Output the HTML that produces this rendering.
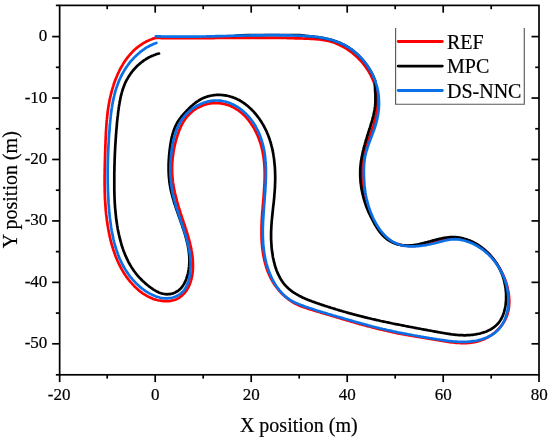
<!DOCTYPE html>
<html><head><meta charset="utf-8"><style>
html,body{margin:0;padding:0;background:#fff;}
body{width:550px;height:439px;overflow:hidden;}
svg{display:block;font-family:"Liberation Serif","Times New Roman",serif;}
text{stroke:#000;stroke-width:0.2px;}
</style></head><body>
<svg width="550" height="439" viewBox="0 0 550 439">
<rect width="550" height="439" fill="#fff"/>
<g fill="none" stroke-width="2.7" stroke-linecap="round" stroke-linejoin="round">
<path d="M155.4,38.0 L153.9,38.4 L152.4,38.9 L151.0,39.5 L149.6,40.0 L148.2,40.7 L146.8,41.3 L145.5,42.0 L144.1,42.7 L142.9,43.5 L141.6,44.3 L140.4,45.1 L139.2,46.0 L138.0,46.9 L136.8,47.8 L135.7,48.8 L134.6,49.8 L133.5,50.8 L132.5,51.8 L131.5,52.9 L130.5,54.0 L129.5,55.1 L128.5,56.3 L127.6,57.4 L126.7,58.6 L125.8,59.8 L125.0,61.1 L124.1,62.3 L123.3,63.6 L122.6,64.9 L121.8,66.2 L121.1,67.5 L120.3,68.8 L119.6,70.2 L119.0,71.5 L118.3,72.9 L117.7,74.3 L117.1,75.7 L116.5,77.1 L115.9,78.5 L115.4,79.9 L114.8,81.3 L114.3,82.8 L113.8,84.2 L113.4,85.6 L112.9,87.1 L112.5,88.5 L112.1,90.0 L111.7,91.4 L111.3,92.9 L110.9,94.3 L110.6,95.8 L110.2,97.3 L109.9,98.7 L109.6,100.2 L109.3,101.7 L109.1,103.1 L108.8,104.6 L108.6,106.1 L108.3,107.6 L108.1,109.0 L107.9,110.5 L107.7,112.0 L107.5,113.5 L107.3,115.0 L107.2,116.5 L107.0,118.0 L106.9,119.4 L106.7,120.9 L106.6,122.4 L106.5,123.9 L106.4,125.4 L106.3,126.9 L106.2,128.4 L106.1,129.9 L106.0,131.4 L105.9,132.9 L105.9,134.4 L105.8,135.9 L105.7,137.4 L105.7,138.9 L105.6,140.4 L105.5,141.9 L105.5,143.4 L105.4,144.9 L105.4,146.4 L105.3,147.9 L105.3,149.4 L105.2,150.9 L105.2,152.4 L105.1,154.0 L105.1,155.5 L105.0,157.0 L105.0,158.5 L105.0,160.0 L104.9,161.5 L104.9,163.0 L104.8,164.5 L104.8,166.0 L104.8,167.5 L104.7,169.0 L104.7,170.5 L104.7,172.0 L104.7,173.5 L104.6,175.0 L104.6,176.5 L104.6,178.0 L104.6,179.4 L104.6,180.9 L104.6,182.4 L104.6,183.9 L104.6,185.4 L104.7,186.9 L104.7,188.4 L104.7,189.9 L104.7,191.4 L104.8,192.9 L104.8,194.4 L104.9,195.9 L104.9,197.4 L105.0,198.9 L105.1,200.4 L105.2,201.9 L105.3,203.4 L105.4,204.9 L105.5,206.4 L105.6,207.9 L105.7,209.4 L105.8,210.9 L106.0,212.4 L106.1,213.9 L106.3,215.4 L106.5,216.9 L106.7,218.4 L106.8,219.9 L107.0,221.4 L107.3,222.8 L107.5,224.3 L107.7,225.8 L108.0,227.3 L108.2,228.8 L108.5,230.3 L108.8,231.8 L109.1,233.3 L109.4,234.8 L109.7,236.3 L110.0,237.7 L110.4,239.2 L110.7,240.7 L111.1,242.2 L111.5,243.6 L111.9,245.1 L112.3,246.5 L112.8,248.0 L113.2,249.4 L113.7,250.8 L114.2,252.3 L114.7,253.7 L115.2,255.1 L115.7,256.5 L116.3,257.9 L116.9,259.3 L117.4,260.6 L118.1,262.0 L118.7,263.4 L119.3,264.7 L120.0,266.0 L120.7,267.3 L121.4,268.7 L122.1,269.9 L122.9,271.2 L123.6,272.5 L124.4,273.7 L125.2,275.0 L126.1,276.2 L126.9,277.4 L127.8,278.6 L128.7,279.8 L129.6,281.0 L130.6,282.1 L131.6,283.2 L132.6,284.4 L133.6,285.4 L134.6,286.5 L135.7,287.6 L136.8,288.6 L137.9,289.6 L139.1,290.6 L140.2,291.5 L141.4,292.4 L142.6,293.3 L143.9,294.1 L145.2,294.9 L146.5,295.7 L147.8,296.4 L149.1,297.1 L150.5,297.7 L151.9,298.3 L153.3,298.9 L154.7,299.4 L156.2,299.8 L157.7,300.2 L159.2,300.5 L160.8,300.7 L162.3,300.9 L163.9,301.1 L165.5,301.1 L167.1,301.1 L168.6,301.1 L170.1,300.9 L171.6,300.6 L173.1,300.3 L174.5,299.9 L175.9,299.4 L177.2,298.8 L178.5,298.1 L179.7,297.3 L180.8,296.5 L181.9,295.6 L183.0,294.6 L184.0,293.6 L185.0,292.5 L185.8,291.4 L186.7,290.2 L187.5,288.9 L188.2,287.6 L188.9,286.3 L189.5,284.9 L190.0,283.5 L190.5,282.1 L191.0,280.6 L191.4,279.2 L191.7,277.7 L192.0,276.2 L192.3,274.7 L192.5,273.1 L192.7,271.6 L192.8,270.0 L192.9,268.5 L192.9,266.9 L192.9,265.4 L192.9,263.9 L192.9,262.4 L192.8,260.8 L192.7,259.3 L192.6,257.8 L192.4,256.3 L192.2,254.8 L192.0,253.4 L191.8,251.9 L191.5,250.4 L191.3,248.9 L191.0,247.5 L190.7,246.0 L190.3,244.6 L190.0,243.1 L189.6,241.7 L189.2,240.2 L188.8,238.8 L188.4,237.4 L188.0,235.9 L187.6,234.5 L187.2,233.1 L186.7,231.7 L186.3,230.2 L185.8,228.8 L185.3,227.4 L184.9,226.0 L184.4,224.5 L183.9,223.1 L183.5,221.7 L183.0,220.3 L182.5,218.9 L182.0,217.4 L181.6,216.0 L181.1,214.6 L180.6,213.1 L180.2,211.7 L179.7,210.3 L179.3,208.9 L178.8,207.4 L178.4,206.0 L178.0,204.5 L177.6,203.1 L177.1,201.7 L176.7,200.2 L176.4,198.8 L176.0,197.3 L175.6,195.9 L175.3,194.4 L174.9,193.0 L174.6,191.5 L174.3,190.1 L174.0,188.6 L173.7,187.1 L173.5,185.7 L173.3,184.2 L173.0,182.7 L172.8,181.2 L172.7,179.7 L172.5,178.3 L172.4,176.8 L172.3,175.3 L172.2,173.8 L172.1,172.3 L172.1,170.8 L172.1,169.3 L172.1,167.7 L172.1,166.2 L172.2,164.7 L172.2,163.2 L172.3,161.7 L172.5,160.2 L172.6,158.7 L172.8,157.1 L173.0,155.6 L173.2,154.1 L173.4,152.6 L173.6,151.1 L173.9,149.6 L174.2,148.1 L174.5,146.6 L174.8,145.2 L175.2,143.7 L175.5,142.2 L175.9,140.8 L176.3,139.3 L176.7,137.9 L177.2,136.4 L177.6,135.0 L178.1,133.6 L178.6,132.2 L179.1,130.8 L179.6,129.5 L180.2,128.1 L180.8,126.8 L181.4,125.5 L182.1,124.2 L182.8,122.9 L183.5,121.6 L184.3,120.4 L185.1,119.2 L186.0,118.0 L186.9,116.8 L187.9,115.7 L189.0,114.6 L190.1,113.5 L191.2,112.5 L192.4,111.5 L193.6,110.5 L194.9,109.6 L196.2,108.7 L197.6,107.9 L199.0,107.2 L200.4,106.5 L201.8,105.9 L203.2,105.3 L204.6,104.8 L206.1,104.4 L207.5,104.0 L209.0,103.7 L210.5,103.4 L212.0,103.2 L213.4,103.1 L214.9,103.1 L216.4,103.1 L217.8,103.1 L219.3,103.2 L220.8,103.4 L222.2,103.6 L223.7,103.9 L225.1,104.2 L226.5,104.6 L227.9,105.0 L229.3,105.5 L230.7,106.1 L232.0,106.7 L233.3,107.3 L234.6,108.0 L235.9,108.8 L237.1,109.6 L238.4,110.4 L239.6,111.3 L240.7,112.2 L241.9,113.2 L243.0,114.2 L244.1,115.2 L245.1,116.3 L246.2,117.4 L247.2,118.6 L248.1,119.7 L249.1,120.9 L250.0,122.2 L250.9,123.4 L251.7,124.7 L252.6,126.0 L253.4,127.3 L254.2,128.6 L254.9,130.0 L255.6,131.3 L256.3,132.7 L256.9,134.1 L257.6,135.5 L258.1,136.9 L258.7,138.3 L259.2,139.7 L259.7,141.1 L260.2,142.6 L260.7,144.0 L261.1,145.4 L261.5,146.9 L261.8,148.3 L262.2,149.8 L262.5,151.2 L262.8,152.7 L263.0,154.2 L263.3,155.6 L263.5,157.1 L263.7,158.6 L263.9,160.0 L264.0,161.5 L264.2,163.0 L264.3,164.5 L264.4,165.9 L264.5,167.4 L264.6,168.9 L264.6,170.4 L264.7,171.9 L264.7,173.4 L264.7,174.8 L264.7,176.3 L264.7,177.8 L264.6,179.3 L264.6,180.8 L264.5,182.3 L264.5,183.7 L264.4,185.2 L264.3,186.7 L264.2,188.2 L264.1,189.7 L264.0,191.2 L263.9,192.7 L263.8,194.1 L263.7,195.6 L263.6,197.1 L263.5,198.6 L263.3,200.1 L263.2,201.6 L263.1,203.1 L262.9,204.6 L262.8,206.1 L262.7,207.6 L262.6,209.1 L262.4,210.6 L262.3,212.1 L262.2,213.6 L262.1,215.1 L262.0,216.6 L261.9,218.1 L261.8,219.6 L261.7,221.1 L261.7,222.6 L261.6,224.2 L261.6,225.7 L261.5,227.2 L261.5,228.7 L261.5,230.3 L261.5,231.8 L261.5,233.3 L261.5,234.9 L261.5,236.4 L261.6,237.9 L261.6,239.4 L261.7,241.0 L261.8,242.5 L261.9,244.0 L262.1,245.6 L262.2,247.1 L262.4,248.6 L262.6,250.1 L262.8,251.6 L263.0,253.1 L263.2,254.6 L263.5,256.1 L263.8,257.6 L264.1,259.0 L264.4,260.5 L264.8,262.0 L265.2,263.4 L265.6,264.8 L266.0,266.3 L266.4,267.7 L266.9,269.1 L267.4,270.5 L267.9,271.9 L268.5,273.2 L269.1,274.6 L269.7,275.9 L270.3,277.3 L271.0,278.6 L271.7,279.9 L272.4,281.2 L273.2,282.4 L273.9,283.7 L274.8,284.9 L275.6,286.1 L276.5,287.3 L277.4,288.5 L278.3,289.6 L279.3,290.8 L280.3,291.9 L281.3,293.0 L282.3,294.0 L283.4,295.1 L284.5,296.1 L285.6,297.0 L286.8,298.0 L288.0,298.9 L289.2,299.8 L290.4,300.7 L291.6,301.5 L292.9,302.3 L294.2,303.0 L295.5,303.7 L296.9,304.4 L298.2,305.1 L299.6,305.7 L301.0,306.3 L302.4,306.8 L303.9,307.3 L305.3,307.8 L306.8,308.3 L308.2,308.7 L309.7,309.2 L311.2,309.6 L312.6,310.1 L314.1,310.5 L315.5,310.9 L317.0,311.4 L318.4,311.8 L319.9,312.2 L321.3,312.7 L322.8,313.1 L324.2,313.5 L325.6,314.0 L327.1,314.4 L328.5,314.8 L329.9,315.3 L331.4,315.7 L332.8,316.1 L334.2,316.5 L335.7,317.0 L337.1,317.4 L338.5,317.8 L339.9,318.3 L341.4,318.7 L342.8,319.1 L344.2,319.5 L345.7,319.9 L347.1,320.4 L348.5,320.8 L350.0,321.2 L351.4,321.6 L352.8,322.0 L354.3,322.4 L355.7,322.9 L357.1,323.3 L358.6,323.7 L360.0,324.1 L361.5,324.5 L362.9,324.9 L364.4,325.3 L365.9,325.7 L367.3,326.1 L368.8,326.5 L370.3,326.8 L371.7,327.2 L373.2,327.6 L374.7,328.0 L376.1,328.4 L377.6,328.7 L379.1,329.1 L380.5,329.4 L382.0,329.8 L383.5,330.1 L385.0,330.5 L386.4,330.8 L387.9,331.2 L389.4,331.5 L390.8,331.8 L392.3,332.1 L393.8,332.5 L395.3,332.8 L396.7,333.1 L398.2,333.4 L399.6,333.7 L401.1,333.9 L402.6,334.2 L404.0,334.5 L405.5,334.8 L406.9,335.0 L408.4,335.3 L409.9,335.5 L411.3,335.8 L412.8,336.0 L414.2,336.3 L415.7,336.5 L417.2,336.8 L418.6,337.0 L420.1,337.2 L421.6,337.5 L423.0,337.7 L424.5,337.9 L426.0,338.2 L427.5,338.4 L428.9,338.7 L430.4,338.9 L431.9,339.2 L433.4,339.4 L434.9,339.6 L436.4,339.9 L437.9,340.1 L439.4,340.4 L440.9,340.7 L442.4,340.9 L443.9,341.2 L445.5,341.4 L447.0,341.7 L448.5,341.9 L450.0,342.1 L451.6,342.3 L453.1,342.5 L454.6,342.6 L456.1,342.8 L457.6,342.9 L459.1,343.0 L460.7,343.1 L462.2,343.2 L463.7,343.2 L465.2,343.2 L466.7,343.1 L468.2,343.0 L469.6,342.9 L471.1,342.7 L472.6,342.5 L474.0,342.3 L475.5,342.0 L476.9,341.6 L478.4,341.3 L479.8,340.8 L481.2,340.3 L482.6,339.8 L484.0,339.2 L485.3,338.6 L486.7,337.9 L488.0,337.2 L489.3,336.4 L490.6,335.6 L491.8,334.8 L493.0,333.9 L494.2,333.0 L495.4,332.0 L496.5,331.0 L497.6,330.0 L498.6,328.9 L499.6,327.8 L500.6,326.7 L501.5,325.6 L502.4,324.4 L503.2,323.1 L504.0,321.9 L504.7,320.6 L505.4,319.3 L506.0,318.0 L506.6,316.7 L507.1,315.3 L507.5,313.9 L507.9,312.5 L508.3,311.1 L508.6,309.6 L508.8,308.2 L509.0,306.7 L509.1,305.2 L509.2,303.7 L509.3,302.2 L509.3,300.7 L509.2,299.2 L509.1,297.7 L509.0,296.1 L508.8,294.6 L508.6,293.1 L508.3,291.6 L508.0,290.0 L507.7,288.5 L507.4,287.0 L507.0,285.5 L506.5,284.0 L506.1,282.5 L505.6,281.0 L505.0,279.6 L504.5,278.1 L503.9,276.7 L503.3,275.3 L502.7,273.9 L502.0,272.5 L501.3,271.1 L500.6,269.8 L499.9,268.5 L499.1,267.2 L498.3,265.9 L497.5,264.6 L496.7,263.4 L495.8,262.2 L494.9,261.0 L494.0,259.8 L493.1,258.7 L492.1,257.6 L491.1,256.5 L490.1,255.4 L489.1,254.4 L488.0,253.3 L486.9,252.4 L485.8,251.4 L484.7,250.5 L483.5,249.6 L482.3,248.7 L481.1,247.8 L479.9,247.0 L478.7,246.2 L477.4,245.5 L476.1,244.7 L474.8,244.0 L473.4,243.4 L472.0,242.7 L470.7,242.1 L469.3,241.6 L467.8,241.1 L466.4,240.6 L464.9,240.1 L463.5,239.7 L462.0,239.4 L460.5,239.1 L459.0,238.8 L457.5,238.6 L456.0,238.4 L454.5,238.3 L453.0,238.3 L451.5,238.3 L450.0,238.4 L448.5,238.5 L447.0,238.7 L445.6,238.9 L444.1,239.2 L442.6,239.5 L441.2,239.9 L439.7,240.3 L438.2,240.7 L436.8,241.1 L435.3,241.5 L433.9,241.9 L432.4,242.4 L431.0,242.8 L429.5,243.2 L428.1,243.5 L426.6,243.9 L425.1,244.2 L423.7,244.6 L422.2,244.9 L420.7,245.1 L419.2,245.4 L417.7,245.6 L416.2,245.7 L414.8,245.9 L413.3,245.9 L411.7,246.0 L410.2,246.0 L408.7,245.9 L407.2,245.8 L405.7,245.7 L404.2,245.5 L402.7,245.2 L401.2,244.9 L399.7,244.6 L398.2,244.1 L396.8,243.7 L395.4,243.1 L394.1,242.5 L392.7,241.9 L391.5,241.2 L390.2,240.4 L389.0,239.6 L387.8,238.8 L386.7,237.8 L385.6,236.9 L384.5,235.9 L383.4,234.9 L382.4,233.8 L381.4,232.7 L380.5,231.5 L379.6,230.3 L378.7,229.1 L377.8,227.9 L377.0,226.6 L376.2,225.3 L375.4,224.0 L374.6,222.7 L373.9,221.3 L373.2,220.0 L372.5,218.6 L371.9,217.2 L371.3,215.8 L370.6,214.4 L370.1,212.9 L369.5,211.5 L369.0,210.1 L368.4,208.7 L367.9,207.2 L367.5,205.8 L367.0,204.4 L366.6,202.9 L366.1,201.5 L365.8,200.1 L365.4,198.6 L365.0,197.2 L364.7,195.7 L364.4,194.3 L364.1,192.8 L363.8,191.4 L363.6,189.9 L363.4,188.4 L363.2,187.0 L363.0,185.5 L362.8,184.0 L362.7,182.5 L362.5,181.1 L362.4,179.6 L362.4,178.1 L362.3,176.6 L362.3,175.1 L362.3,173.6 L362.3,172.1 L362.3,170.6 L362.3,169.1 L362.4,167.5 L362.5,166.0 L362.6,164.5 L362.7,163.0 L362.9,161.5 L363.1,160.0 L363.3,158.5 L363.5,157.0 L363.8,155.5 L364.1,154.0 L364.4,152.5 L364.8,151.1 L365.1,149.6 L365.5,148.2 L366.0,146.8 L366.4,145.4 L366.9,144.0 L367.4,142.6 L367.9,141.2 L368.4,139.8 L368.9,138.4 L369.5,137.0 L370.0,135.6 L370.5,134.2 L371.0,132.8 L371.5,131.3 L372.0,129.9 L372.5,128.5 L372.9,127.0 L373.4,125.6 L373.8,124.1 L374.2,122.6 L374.6,121.2 L375.0,119.7 L375.3,118.2 L375.6,116.7 L375.9,115.2 L376.2,113.7 L376.5,112.3 L376.7,110.8 L376.9,109.3 L377.0,107.8 L377.1,106.3 L377.2,104.8 L377.3,103.3 L377.3,101.8 L377.3,100.3 L377.3,98.8 L377.2,97.4 L377.1,95.9 L376.9,94.4 L376.7,92.9 L376.4,91.5 L376.1,90.0 L375.8,88.6 L375.4,87.1 L375.0,85.7 L374.6,84.3 L374.1,82.9 L373.6,81.5 L373.0,80.1 L372.4,78.7 L371.8,77.4 L371.2,76.0 L370.5,74.7 L369.7,73.3 L369.0,72.0 L368.2,70.8 L367.4,69.5 L366.5,68.2 L365.7,67.0 L364.8,65.8 L363.9,64.6 L362.9,63.4 L361.9,62.2 L360.9,61.1 L359.9,59.9 L358.8,58.9 L357.8,57.8 L356.7,56.7 L355.5,55.7 L354.4,54.7 L353.2,53.7 L352.1,52.8 L350.9,51.8 L349.6,50.9 L348.4,50.1 L347.2,49.2 L345.9,48.4 L344.6,47.7 L343.3,46.9 L342.0,46.2 L340.7,45.5 L339.3,44.9 L337.9,44.2 L336.6,43.7 L335.2,43.1 L333.8,42.6 L332.4,42.1 L331.0,41.7 L329.5,41.3 L328.1,40.9 L326.6,40.6 L325.2,40.3 L323.7,40.1 L322.2,39.8 L320.8,39.6 L319.3,39.5 L317.8,39.3 L316.3,39.2 L314.8,39.1 L313.3,39.0 L311.8,38.9 L310.3,38.8 L308.8,38.7 L307.2,38.7 L305.7,38.6 L304.2,38.6 L302.7,38.5 L301.2,38.4 L299.7,38.4 L298.2,38.3 L296.7,38.3 L295.2,38.3 L293.7,38.2 L292.2,38.2 L290.7,38.1 L289.1,38.1 L287.6,38.1 L286.1,38.0 L284.6,38.0 L283.1,38.0 L281.6,38.0 L280.1,37.9 L278.6,37.9 L277.1,37.9 L275.6,37.9 L274.1,37.9 L272.6,37.9 L271.1,37.8 L269.6,37.8 L268.1,37.8 L266.6,37.8 L265.1,37.8 L263.6,37.8 L262.1,37.8 L260.6,37.8 L259.1,37.8 L257.6,37.8 L256.1,37.8 L254.6,37.8 L253.1,37.8 L251.6,37.8 L250.1,37.8 L248.6,37.8 L247.1,37.8 L245.6,37.8 L244.1,37.8 L242.6,37.8 L241.1,37.8 L239.6,37.8 L238.1,37.9 L236.6,37.9 L235.1,37.9 L233.6,37.9 L232.1,37.9 L230.6,37.9 L229.1,37.9 L227.6,37.9 L226.1,37.9 L224.6,38.0 L223.1,38.0 L221.6,38.0 L220.1,38.0 L218.6,38.0 L217.1,38.0 L215.6,38.0 L214.1,38.1 L212.6,38.1 L211.1,38.1 L209.6,38.1 L208.1,38.1 L206.6,38.1 L205.1,38.1 L203.6,38.1 L202.1,38.1 L200.6,38.2 L199.1,38.2 L197.6,38.2 L196.1,38.2 L194.6,38.2 L193.1,38.2 L191.6,38.2 L190.1,38.2 L188.6,38.2 L187.1,38.2 L185.6,38.2 L184.1,38.2 L182.6,38.2 L181.1,38.2 L179.6,38.2 L178.1,38.2 L176.6,38.2 L175.1,38.2 L173.6,38.2 L172.1,38.2 L170.5,38.2 L169.0,38.1 L167.5,38.1 L166.0,38.1 L164.5,38.1 L163.0,38.1 L161.5,38.1 L160.0,38.0 L158.5,38.0 L157.0,38.0 L155.5,38.0" stroke="#ff0000" />
<path d="M159.0,53.5 L158.0,53.7 L157.0,54.0 L156.1,54.3 L155.1,54.7 L154.2,55.0 L153.3,55.4 L152.3,55.8 L151.4,56.2 L150.5,56.6 L149.6,57.1 L148.7,57.5 L147.8,58.0 L147.0,58.5 L146.1,59.0 L145.3,59.6 L144.4,60.1 L143.6,60.7 L142.8,61.3 L142.0,61.9 L141.2,62.5 L140.4,63.2 L139.6,63.8 L138.9,64.5 L138.1,65.1 L137.4,65.8 L136.7,66.5 L136.0,67.2 L135.3,68.0 L134.6,68.7 L133.9,69.5 L133.3,70.2 L132.6,71.0 L132.0,71.8 L131.4,72.6 L130.8,73.4 L130.2,74.2 L129.7,75.0 L129.1,75.9 L128.6,76.7 L128.1,77.6 L127.6,78.4 L127.1,79.3 L126.6,80.2 L126.2,81.0 L125.7,81.9 L125.3,82.8 L124.9,83.7 L124.5,84.6 L124.2,85.6 L123.8,86.5 L123.5,87.4 L123.1,88.3 L122.8,89.3 L122.5,90.2 L122.2,91.2 L121.9,92.1 L121.7,93.1 L121.4,94.0 L121.2,95.0 L120.9,96.0 L120.7,97.0 L120.5,97.9 L120.3,98.9 L120.1,99.9 L119.9,100.9 L119.7,101.9 L119.5,102.9 L119.4,103.9 L119.2,104.9 L119.0,105.9 L118.9,106.9 L118.7,107.9 L118.6,108.9 L118.5,109.9 L118.3,110.9 L118.2,111.9 L118.1,112.9 L118.0,113.9 L117.9,114.9 L117.8,115.9 L117.6,116.9 L117.5,117.9 L117.4,118.9 L117.3,119.9 L117.2,120.9 L117.1,121.9 L117.0,122.9 L116.9,123.9 L116.8,124.9 L116.8,125.9 L116.7,126.9 L116.6,127.9 L116.5,128.9 L116.4,129.9 L116.3,130.9 L116.2,131.9 L116.2,132.9 L116.1,133.9 L116.0,134.9 L115.9,135.9 L115.9,136.9 L115.8,137.9 L115.7,138.9 L115.7,139.9 L115.6,140.9 L115.5,141.9 L115.5,142.9 L115.4,143.9 L115.3,144.9 L115.3,145.9 L115.2,146.9 L115.2,147.9 L115.1,148.9 L115.1,149.9 L115.0,150.9 L115.0,151.8 L114.9,152.8 L114.9,153.8 L114.8,154.8 L114.8,155.8 L114.8,156.8 L114.7,157.8 L114.7,158.8 L114.6,159.8 L114.6,160.8 L114.6,161.8 L114.6,162.8 L114.5,163.8 L114.5,164.8 L114.5,165.8 L114.4,166.8 L114.4,167.8 L114.4,168.8 L114.4,169.8 L114.4,170.8 L114.3,171.8 L114.3,172.8 L114.3,173.8 L114.3,174.8 L114.3,175.8 L114.3,176.8 L114.3,177.8 L114.3,178.8 L114.3,179.8 L114.3,180.8 L114.3,181.8 L114.3,182.8 L114.3,183.8 L114.3,184.8 L114.3,185.8 L114.3,186.8 L114.3,187.8 L114.3,188.8 L114.3,189.8 L114.3,190.8 L114.4,191.8 L114.4,192.8 L114.4,193.8 L114.4,194.8 L114.5,195.8 L114.5,196.8 L114.5,197.8 L114.6,198.8 L114.6,199.8 L114.7,200.8 L114.7,201.8 L114.8,202.8 L114.8,203.8 L114.9,204.8 L115.0,205.8 L115.0,206.8 L115.1,207.8 L115.2,208.8 L115.3,209.8 L115.4,210.8 L115.5,211.8 L115.6,212.8 L115.7,213.8 L115.8,214.8 L115.9,215.8 L116.0,216.8 L116.1,217.8 L116.2,218.8 L116.3,219.8 L116.5,220.8 L116.6,221.8 L116.8,222.8 L116.9,223.8 L117.1,224.7 L117.2,225.7 L117.4,226.7 L117.6,227.7 L117.7,228.7 L117.9,229.7 L118.1,230.7 L118.3,231.6 L118.5,232.6 L118.7,233.6 L118.9,234.6 L119.2,235.6 L119.4,236.5 L119.6,237.5 L119.9,238.5 L120.1,239.5 L120.4,240.4 L120.6,241.4 L120.9,242.4 L121.2,243.3 L121.4,244.3 L121.7,245.3 L122.0,246.2 L122.3,247.2 L122.7,248.1 L123.0,249.1 L123.3,250.0 L123.6,251.0 L124.0,251.9 L124.4,252.8 L124.7,253.8 L125.1,254.7 L125.5,255.6 L125.9,256.5 L126.3,257.4 L126.7,258.3 L127.1,259.2 L127.6,260.1 L128.0,261.0 L128.4,261.9 L128.9,262.8 L129.4,263.6 L129.9,264.5 L130.4,265.4 L130.9,266.2 L131.4,267.1 L131.9,267.9 L132.5,268.7 L133.0,269.6 L133.6,270.4 L134.2,271.2 L134.8,272.0 L135.4,272.8 L136.0,273.6 L136.6,274.3 L137.2,275.1 L137.9,275.9 L138.5,276.6 L139.2,277.4 L139.9,278.1 L140.6,278.8 L141.3,279.5 L142.0,280.3 L142.7,281.0 L143.5,281.6 L144.2,282.3 L145.0,283.0 L145.7,283.7 L146.5,284.3 L147.3,285.0 L148.1,285.6 L148.9,286.3 L149.7,286.9 L150.6,287.5 L151.4,288.1 L152.3,288.7 L153.1,289.3 L154.0,289.9 L154.9,290.4 L155.7,290.9 L156.6,291.4 L157.5,291.8 L158.4,292.3 L159.4,292.7 L160.3,293.0 L161.2,293.3 L162.2,293.6 L163.1,293.8 L164.1,294.0 L165.0,294.1 L166.0,294.2 L167.0,294.3 L168.0,294.2 L168.9,294.2 L169.9,294.1 L170.9,293.9 L171.8,293.7 L172.8,293.4 L173.7,293.1 L174.7,292.7 L175.5,292.3 L176.4,291.8 L177.3,291.3 L178.1,290.8 L178.8,290.2 L179.6,289.6 L180.3,288.9 L181.0,288.2 L181.6,287.5 L182.2,286.7 L182.8,285.9 L183.3,285.1 L183.9,284.2 L184.3,283.4 L184.8,282.5 L185.2,281.5 L185.7,280.6 L186.0,279.7 L186.4,278.7 L186.7,277.7 L187.0,276.7 L187.3,275.8 L187.6,274.8 L187.9,273.8 L188.1,272.8 L188.3,271.8 L188.5,270.8 L188.7,269.7 L188.8,268.7 L188.9,267.7 L189.1,266.7 L189.2,265.7 L189.2,264.7 L189.3,263.7 L189.3,262.7 L189.4,261.7 L189.4,260.7 L189.4,259.7 L189.4,258.7 L189.3,257.7 L189.3,256.7 L189.2,255.7 L189.1,254.7 L189.0,253.7 L188.9,252.7 L188.8,251.7 L188.7,250.8 L188.6,249.8 L188.4,248.8 L188.2,247.8 L188.1,246.9 L187.9,245.9 L187.7,244.9 L187.5,244.0 L187.3,243.0 L187.0,242.0 L186.8,241.1 L186.6,240.1 L186.3,239.2 L186.1,238.2 L185.8,237.3 L185.5,236.3 L185.3,235.3 L185.0,234.4 L184.7,233.4 L184.4,232.5 L184.1,231.5 L183.8,230.6 L183.5,229.6 L183.2,228.7 L182.8,227.7 L182.5,226.8 L182.2,225.8 L181.9,224.9 L181.6,223.9 L181.2,223.0 L180.9,222.0 L180.6,221.1 L180.2,220.1 L179.9,219.2 L179.6,218.2 L179.2,217.3 L178.9,216.3 L178.5,215.4 L178.2,214.4 L177.9,213.5 L177.5,212.5 L177.2,211.6 L176.9,210.6 L176.6,209.7 L176.2,208.7 L175.9,207.8 L175.6,206.8 L175.3,205.8 L175.0,204.9 L174.6,203.9 L174.3,203.0 L174.0,202.0 L173.8,201.1 L173.5,200.1 L173.2,199.1 L172.9,198.2 L172.6,197.2 L172.4,196.2 L172.1,195.3 L171.9,194.3 L171.6,193.3 L171.4,192.4 L171.2,191.4 L170.9,190.4 L170.7,189.5 L170.5,188.5 L170.3,187.5 L170.2,186.5 L170.0,185.6 L169.8,184.6 L169.7,183.6 L169.5,182.6 L169.4,181.6 L169.3,180.6 L169.2,179.6 L169.1,178.7 L169.0,177.7 L168.9,176.7 L168.8,175.7 L168.8,174.7 L168.7,173.7 L168.7,172.7 L168.6,171.7 L168.6,170.7 L168.6,169.7 L168.6,168.7 L168.6,167.7 L168.6,166.7 L168.6,165.7 L168.6,164.7 L168.6,163.7 L168.7,162.7 L168.7,161.7 L168.8,160.7 L168.8,159.7 L168.9,158.7 L169.0,157.7 L169.0,156.6 L169.1,155.6 L169.2,154.6 L169.3,153.6 L169.4,152.6 L169.5,151.6 L169.6,150.6 L169.7,149.6 L169.9,148.6 L170.0,147.6 L170.1,146.6 L170.3,145.6 L170.4,144.6 L170.6,143.6 L170.8,142.6 L170.9,141.6 L171.1,140.6 L171.3,139.6 L171.5,138.6 L171.7,137.6 L172.0,136.7 L172.2,135.7 L172.5,134.7 L172.7,133.8 L173.0,132.8 L173.3,131.9 L173.6,130.9 L173.9,130.0 L174.3,129.1 L174.6,128.2 L175.0,127.3 L175.4,126.4 L175.8,125.5 L176.2,124.6 L176.7,123.7 L177.1,122.9 L177.6,122.0 L178.1,121.2 L178.7,120.4 L179.2,119.6 L179.8,118.8 L180.4,118.0 L181.0,117.2 L181.6,116.4 L182.2,115.6 L182.9,114.9 L183.5,114.1 L184.2,113.4 L184.9,112.6 L185.6,111.9 L186.3,111.2 L187.0,110.4 L187.7,109.7 L188.5,109.0 L189.2,108.3 L190.0,107.5 L190.7,106.8 L191.5,106.1 L192.3,105.4 L193.0,104.8 L193.8,104.1 L194.6,103.5 L195.4,102.8 L196.2,102.2 L197.1,101.6 L197.9,101.1 L198.8,100.5 L199.6,100.0 L200.5,99.5 L201.4,99.0 L202.3,98.6 L203.2,98.1 L204.1,97.7 L205.0,97.4 L205.9,97.0 L206.8,96.7 L207.8,96.4 L208.7,96.2 L209.7,95.9 L210.7,95.7 L211.6,95.5 L212.6,95.4 L213.6,95.2 L214.5,95.1 L215.5,95.0 L216.5,94.9 L217.5,94.9 L218.5,94.9 L219.5,94.9 L220.4,94.9 L221.4,95.0 L222.4,95.1 L223.4,95.2 L224.4,95.3 L225.3,95.4 L226.3,95.6 L227.3,95.8 L228.3,96.0 L229.2,96.2 L230.2,96.5 L231.1,96.8 L232.1,97.1 L233.0,97.4 L234.0,97.8 L234.9,98.1 L235.8,98.5 L236.7,98.9 L237.6,99.4 L238.5,99.8 L239.4,100.3 L240.3,100.8 L241.1,101.3 L242.0,101.8 L242.8,102.4 L243.7,103.0 L244.5,103.5 L245.3,104.1 L246.1,104.8 L246.9,105.4 L247.7,106.0 L248.5,106.7 L249.2,107.4 L250.0,108.1 L250.7,108.8 L251.5,109.5 L252.2,110.2 L252.9,110.9 L253.6,111.7 L254.3,112.5 L254.9,113.2 L255.6,114.0 L256.3,114.8 L256.9,115.6 L257.5,116.4 L258.1,117.2 L258.7,118.0 L259.3,118.8 L259.9,119.7 L260.5,120.5 L261.0,121.4 L261.6,122.2 L262.1,123.1 L262.6,123.9 L263.1,124.8 L263.6,125.6 L264.1,126.5 L264.5,127.4 L265.0,128.3 L265.4,129.2 L265.9,130.1 L266.3,130.9 L266.7,131.8 L267.1,132.8 L267.5,133.7 L267.9,134.6 L268.2,135.5 L268.6,136.4 L268.9,137.3 L269.2,138.3 L269.6,139.2 L269.9,140.1 L270.2,141.1 L270.5,142.0 L270.8,143.0 L271.0,143.9 L271.3,144.9 L271.5,145.8 L271.8,146.8 L272.0,147.7 L272.2,148.7 L272.4,149.7 L272.7,150.6 L272.8,151.6 L273.0,152.6 L273.2,153.6 L273.4,154.5 L273.5,155.5 L273.7,156.5 L273.8,157.5 L274.0,158.5 L274.1,159.5 L274.2,160.5 L274.3,161.5 L274.4,162.5 L274.5,163.5 L274.6,164.5 L274.7,165.5 L274.8,166.5 L274.9,167.5 L274.9,168.5 L275.0,169.5 L275.0,170.5 L275.1,171.5 L275.1,172.5 L275.1,173.5 L275.1,174.5 L275.2,175.5 L275.2,176.5 L275.2,177.5 L275.2,178.5 L275.2,179.5 L275.2,180.6 L275.1,181.6 L275.1,182.6 L275.1,183.6 L275.0,184.6 L275.0,185.6 L275.0,186.6 L274.9,187.6 L274.9,188.6 L274.8,189.6 L274.7,190.6 L274.7,191.6 L274.6,192.7 L274.5,193.7 L274.4,194.7 L274.3,195.7 L274.3,196.7 L274.2,197.7 L274.1,198.7 L274.0,199.7 L273.9,200.6 L273.8,201.6 L273.7,202.6 L273.6,203.6 L273.5,204.6 L273.3,205.6 L273.2,206.6 L273.1,207.6 L273.0,208.6 L272.9,209.6 L272.8,210.6 L272.7,211.5 L272.6,212.5 L272.5,213.5 L272.4,214.5 L272.3,215.5 L272.2,216.5 L272.1,217.5 L272.0,218.5 L271.9,219.4 L271.8,220.4 L271.7,221.4 L271.6,222.4 L271.6,223.4 L271.5,224.4 L271.4,225.4 L271.4,226.3 L271.3,227.3 L271.3,228.3 L271.2,229.3 L271.2,230.3 L271.1,231.3 L271.1,232.3 L271.1,233.3 L271.1,234.3 L271.1,235.3 L271.1,236.3 L271.1,237.2 L271.1,238.2 L271.1,239.2 L271.2,240.2 L271.2,241.2 L271.3,242.2 L271.3,243.2 L271.4,244.2 L271.5,245.2 L271.5,246.2 L271.6,247.3 L271.7,248.3 L271.8,249.3 L271.9,250.3 L272.1,251.3 L272.2,252.3 L272.4,253.3 L272.5,254.3 L272.7,255.4 L272.8,256.4 L273.0,257.4 L273.2,258.4 L273.4,259.4 L273.7,260.4 L273.9,261.4 L274.1,262.4 L274.4,263.4 L274.7,264.4 L274.9,265.4 L275.2,266.4 L275.5,267.3 L275.8,268.3 L276.2,269.3 L276.5,270.2 L276.9,271.2 L277.3,272.1 L277.6,273.0 L278.1,273.9 L278.5,274.8 L278.9,275.7 L279.4,276.6 L279.8,277.5 L280.3,278.3 L280.8,279.2 L281.3,280.0 L281.8,280.8 L282.4,281.6 L282.9,282.4 L283.5,283.2 L284.1,284.0 L284.7,284.7 L285.4,285.4 L286.0,286.1 L286.7,286.8 L287.4,287.5 L288.1,288.2 L288.8,288.8 L289.5,289.4 L290.3,290.0 L291.0,290.6 L291.8,291.2 L292.6,291.8 L293.4,292.3 L294.2,292.9 L295.1,293.4 L295.9,293.9 L296.8,294.4 L297.6,294.9 L298.5,295.4 L299.4,295.9 L300.3,296.3 L301.2,296.8 L302.1,297.2 L303.0,297.7 L303.9,298.1 L304.9,298.5 L305.8,298.9 L306.8,299.3 L307.7,299.7 L308.7,300.1 L309.6,300.4 L310.6,300.8 L311.6,301.2 L312.5,301.5 L313.5,301.9 L314.5,302.2 L315.4,302.6 L316.4,302.9 L317.4,303.3 L318.4,303.6 L319.3,303.9 L320.3,304.3 L321.3,304.6 L322.2,304.9 L323.2,305.2 L324.2,305.6 L325.1,305.9 L326.1,306.2 L327.1,306.5 L328.0,306.8 L329.0,307.1 L330.0,307.4 L330.9,307.7 L331.9,308.0 L332.8,308.3 L333.8,308.6 L334.8,308.9 L335.7,309.2 L336.7,309.5 L337.6,309.8 L338.6,310.1 L339.5,310.4 L340.5,310.7 L341.5,310.9 L342.4,311.2 L343.4,311.5 L344.3,311.8 L345.3,312.0 L346.2,312.3 L347.2,312.6 L348.1,312.9 L349.1,313.1 L350.1,313.4 L351.0,313.6 L352.0,313.9 L352.9,314.2 L353.9,314.4 L354.8,314.7 L355.8,314.9 L356.7,315.2 L357.7,315.4 L358.7,315.7 L359.6,315.9 L360.6,316.2 L361.5,316.4 L362.5,316.6 L363.4,316.9 L364.4,317.1 L365.4,317.4 L366.3,317.6 L367.3,317.8 L368.2,318.1 L369.2,318.3 L370.2,318.5 L371.1,318.7 L372.1,319.0 L373.1,319.2 L374.0,319.4 L375.0,319.6 L376.0,319.9 L376.9,320.1 L377.9,320.3 L378.9,320.5 L379.9,320.7 L380.8,321.0 L381.8,321.2 L382.8,321.4 L383.8,321.6 L384.7,321.8 L385.7,322.0 L386.7,322.2 L387.7,322.4 L388.7,322.6 L389.6,322.8 L390.6,323.0 L391.6,323.2 L392.6,323.5 L393.6,323.7 L394.5,323.9 L395.5,324.1 L396.5,324.3 L397.5,324.4 L398.5,324.6 L399.5,324.8 L400.5,325.0 L401.4,325.2 L402.4,325.4 L403.4,325.6 L404.4,325.8 L405.4,326.0 L406.4,326.2 L407.4,326.4 L408.4,326.6 L409.3,326.8 L410.3,327.0 L411.3,327.1 L412.3,327.3 L413.3,327.5 L414.3,327.7 L415.3,327.9 L416.3,328.1 L417.3,328.3 L418.3,328.5 L419.2,328.6 L420.2,328.8 L421.2,329.0 L422.2,329.2 L423.2,329.4 L424.2,329.6 L425.2,329.7 L426.2,329.9 L427.2,330.1 L428.2,330.3 L429.1,330.5 L430.1,330.6 L431.1,330.8 L432.1,331.0 L433.1,331.2 L434.1,331.4 L435.1,331.6 L436.1,331.7 L437.0,331.9 L438.0,332.1 L439.0,332.3 L440.0,332.5 L441.0,332.6 L442.0,332.8 L443.0,333.0 L443.9,333.1 L444.9,333.3 L445.9,333.5 L446.9,333.6 L447.9,333.8 L448.9,333.9 L449.8,334.1 L450.8,334.2 L451.8,334.4 L452.8,334.5 L453.8,334.6 L454.8,334.7 L455.8,334.8 L456.7,334.9 L457.7,335.0 L458.7,335.1 L459.7,335.1 L460.7,335.2 L461.7,335.2 L462.7,335.2 L463.7,335.3 L464.7,335.3 L465.7,335.3 L466.7,335.2 L467.6,335.2 L468.6,335.2 L469.6,335.1 L470.6,335.0 L471.6,334.9 L472.6,334.8 L473.6,334.7 L474.6,334.5 L475.6,334.4 L476.7,334.2 L477.7,334.0 L478.7,333.8 L479.7,333.6 L480.7,333.3 L481.6,333.0 L482.6,332.7 L483.6,332.4 L484.6,332.1 L485.5,331.8 L486.5,331.4 L487.4,331.0 L488.3,330.6 L489.2,330.1 L490.1,329.7 L491.0,329.2 L491.8,328.7 L492.6,328.1 L493.5,327.6 L494.2,327.0 L495.0,326.4 L495.7,325.8 L496.5,325.1 L497.1,324.5 L497.8,323.8 L498.4,323.0 L499.0,322.3 L499.6,321.5 L500.1,320.7 L500.6,319.9 L501.1,319.0 L501.6,318.2 L502.0,317.3 L502.5,316.4 L502.8,315.5 L503.2,314.6 L503.5,313.6 L503.9,312.7 L504.2,311.7 L504.4,310.7 L504.7,309.7 L504.9,308.7 L505.1,307.7 L505.3,306.7 L505.5,305.7 L505.6,304.7 L505.7,303.7 L505.9,302.6 L505.9,301.6 L506.0,300.6 L506.1,299.6 L506.1,298.5 L506.1,297.5 L506.1,296.5 L506.1,295.5 L506.1,294.5 L506.1,293.4 L506.0,292.4 L505.9,291.4 L505.8,290.4 L505.7,289.4 L505.6,288.4 L505.5,287.4 L505.3,286.4 L505.1,285.4 L504.9,284.5 L504.7,283.5 L504.5,282.5 L504.3,281.5 L504.0,280.6 L503.8,279.6 L503.5,278.6 L503.2,277.7 L502.9,276.7 L502.6,275.8 L502.2,274.9 L501.9,273.9 L501.5,273.0 L501.1,272.1 L500.7,271.2 L500.3,270.3 L499.9,269.4 L499.4,268.5 L499.0,267.6 L498.5,266.7 L498.0,265.9 L497.5,265.0 L497.0,264.2 L496.5,263.3 L495.9,262.5 L495.4,261.7 L494.8,260.9 L494.2,260.0 L493.6,259.2 L493.0,258.5 L492.4,257.7 L491.8,256.9 L491.1,256.2 L490.4,255.4 L489.8,254.7 L489.1,253.9 L488.4,253.2 L487.7,252.5 L486.9,251.8 L486.2,251.1 L485.5,250.5 L484.7,249.8 L483.9,249.2 L483.1,248.5 L482.3,247.9 L481.5,247.3 L480.7,246.7 L479.9,246.1 L479.0,245.5 L478.2,245.0 L477.3,244.5 L476.5,243.9 L475.6,243.4 L474.7,242.9 L473.8,242.5 L472.9,242.0 L472.0,241.6 L471.1,241.2 L470.2,240.7 L469.3,240.4 L468.3,240.0 L467.4,239.7 L466.5,239.3 L465.5,239.0 L464.6,238.7 L463.6,238.5 L462.7,238.2 L461.7,238.0 L460.7,237.8 L459.8,237.6 L458.8,237.5 L457.8,237.4 L456.8,237.3 L455.9,237.2 L454.9,237.1 L453.9,237.1 L452.9,237.1 L451.9,237.1 L451.0,237.1 L450.0,237.2 L449.0,237.3 L448.0,237.4 L447.0,237.5 L446.0,237.6 L445.1,237.8 L444.1,237.9 L443.1,238.1 L442.1,238.3 L441.1,238.5 L440.1,238.7 L439.1,238.9 L438.2,239.2 L437.2,239.4 L436.2,239.7 L435.2,239.9 L434.2,240.2 L433.2,240.4 L432.2,240.7 L431.2,241.0 L430.2,241.3 L429.3,241.5 L428.3,241.8 L427.3,242.1 L426.3,242.3 L425.3,242.6 L424.3,242.9 L423.3,243.1 L422.3,243.4 L421.3,243.6 L420.3,243.8 L419.3,244.1 L418.4,244.3 L417.4,244.5 L416.4,244.7 L415.4,244.8 L414.4,245.0 L413.4,245.1 L412.4,245.3 L411.4,245.4 L410.5,245.4 L409.5,245.5 L408.5,245.6 L407.5,245.6 L406.5,245.6 L405.5,245.6 L404.6,245.5 L403.6,245.4 L402.6,245.3 L401.6,245.2 L400.7,245.0 L399.7,244.8 L398.7,244.6 L397.8,244.4 L396.8,244.1 L395.9,243.8 L394.9,243.4 L394.0,243.1 L393.1,242.7 L392.2,242.2 L391.3,241.8 L390.4,241.3 L389.5,240.8 L388.7,240.3 L387.9,239.7 L387.0,239.2 L386.2,238.6 L385.5,237.9 L384.7,237.3 L384.0,236.6 L383.2,235.9 L382.5,235.2 L381.9,234.4 L381.2,233.7 L380.6,232.9 L379.9,232.1 L379.3,231.3 L378.7,230.5 L378.1,229.7 L377.6,228.8 L377.0,228.0 L376.5,227.1 L376.0,226.2 L375.4,225.3 L374.9,224.5 L374.4,223.6 L373.9,222.7 L373.5,221.8 L373.0,220.9 L372.5,220.0 L372.1,219.2 L371.6,218.3 L371.2,217.4 L370.7,216.5 L370.3,215.6 L369.9,214.7 L369.4,213.9 L369.0,213.0 L368.6,212.1 L368.2,211.2 L367.8,210.3 L367.5,209.4 L367.1,208.5 L366.7,207.6 L366.4,206.7 L366.0,205.7 L365.7,204.8 L365.4,203.9 L365.1,202.9 L364.8,202.0 L364.5,201.0 L364.2,200.1 L363.9,199.1 L363.6,198.1 L363.4,197.2 L363.1,196.2 L362.9,195.2 L362.6,194.2 L362.4,193.3 L362.2,192.3 L362.0,191.3 L361.8,190.3 L361.6,189.3 L361.4,188.3 L361.3,187.3 L361.1,186.3 L361.0,185.3 L360.9,184.3 L360.7,183.3 L360.6,182.3 L360.5,181.3 L360.5,180.3 L360.4,179.2 L360.3,178.2 L360.3,177.2 L360.2,176.2 L360.2,175.2 L360.2,174.2 L360.2,173.2 L360.2,172.2 L360.2,171.2 L360.2,170.2 L360.3,169.2 L360.3,168.2 L360.4,167.2 L360.5,166.2 L360.6,165.2 L360.7,164.2 L360.8,163.2 L360.9,162.3 L361.0,161.3 L361.2,160.3 L361.4,159.3 L361.5,158.3 L361.7,157.4 L361.9,156.4 L362.1,155.4 L362.3,154.5 L362.5,153.5 L362.7,152.5 L362.9,151.6 L363.1,150.6 L363.4,149.6 L363.6,148.7 L363.9,147.7 L364.1,146.7 L364.4,145.8 L364.7,144.8 L364.9,143.9 L365.2,142.9 L365.5,142.0 L365.8,141.0 L366.0,140.0 L366.3,139.1 L366.6,138.1 L366.9,137.2 L367.2,136.2 L367.5,135.3 L367.8,134.3 L368.1,133.4 L368.4,132.4 L368.7,131.4 L369.0,130.5 L369.3,129.5 L369.7,128.6 L370.0,127.6 L370.3,126.7 L370.6,125.7 L370.8,124.7 L371.1,123.8 L371.4,122.8 L371.7,121.9 L372.0,120.9 L372.3,119.9 L372.5,119.0 L372.8,118.0 L373.0,117.0 L373.3,116.1 L373.5,115.1 L373.7,114.1 L373.9,113.1 L374.1,112.2 L374.3,111.2 L374.5,110.2 L374.7,109.2 L374.8,108.2 L374.9,107.2 L375.1,106.2 L375.2,105.2 L375.3,104.2 L375.3,103.2 L375.4,102.2 L375.4,101.2 L375.4,100.2 L375.4,99.2 L375.4,98.2 L375.4,94.5 L375.1,90.5 L375.0,86.5 L375.2,81.0 L374.7,79.6 L374.1,78.2 L373.5,76.8 L372.9,75.4 L372.2,74.1 L371.5,72.7 L370.8,71.4 L370.0,70.0 L369.3,68.7 L368.4,67.4 L367.6,66.1 L366.7,64.9 L365.8,63.7 L364.9,62.4 L363.9,61.2 L362.9,60.1 L361.9,58.9 L360.9,57.8 L359.8,56.7 L358.7,55.6 L357.6,54.6 L356.5,53.5 L355.4,52.5 L354.2,51.6 L353.0,50.6 L351.8,49.7 L350.6,48.9 L349.4,48.0 L348.1,47.2 L346.8,46.4 L345.6,45.7 L344.3,45.0 L343.0,44.3 L341.6,43.7 L340.3,43.1 L338.9,42.5 L337.6,42.0 L336.2,41.5 L334.8,41.0 L333.4,40.5 L332.0,40.1 L330.6,39.7 L329.2,39.3 L327.7,39.0 L326.3,38.7 L324.9,38.4 L323.4,38.1 L321.9,37.8 L320.5,37.6 L319.0,37.3 L317.5,37.1 L316.0,37.0 L314.5,36.8 L313.0,36.6 L311.5,36.5 L310.0,36.3 L308.5,36.2 L307.0,36.1 L300.0,35.1 L295.9,35.0 L285.0,35.0 L270.0,35.0 L250.0,35.1 L240.0,35.4 L234.0,36.0" stroke="#000000" />
<path d="M156.3,43.0 L154.9,43.5 L153.5,44.1 L152.1,44.7 L150.8,45.3 L149.4,46.0 L148.1,46.7 L146.8,47.4 L145.5,48.2 L144.3,49.1 L143.1,49.9 L141.8,50.8 L140.6,51.7 L139.5,52.7 L138.3,53.7 L137.2,54.7 L136.1,55.7 L135.0,56.8 L133.9,57.9 L132.9,59.0 L131.9,60.1 L130.9,61.2 L129.9,62.4 L129.0,63.6 L128.1,64.8 L127.2,66.1 L126.3,67.3 L125.5,68.6 L124.7,69.8 L123.9,71.1 L123.2,72.4 L122.4,73.7 L121.7,75.1 L121.1,76.4 L120.4,77.7 L119.8,79.1 L119.2,80.4 L118.6,81.8 L118.1,83.2 L117.6,84.6 L117.1,86.0 L116.6,87.4 L116.1,88.8 L115.7,90.2 L115.3,91.6 L114.9,93.1 L114.5,94.5 L114.2,96.0 L113.8,97.4 L113.5,98.9 L113.2,100.3 L112.9,101.8 L112.6,103.3 L112.3,104.7 L112.1,106.2 L111.9,107.7 L111.6,109.2 L111.4,110.7 L111.2,112.2 L111.0,113.7 L110.8,115.2 L110.7,116.7 L110.5,118.2 L110.4,119.7 L110.2,121.2 L110.1,122.7 L109.9,124.2 L109.8,125.7 L109.7,127.3 L109.6,128.8 L109.5,130.3 L109.4,131.8 L109.2,133.3 L109.1,134.8 L109.0,136.3 L108.9,137.8 L108.8,139.3 L108.8,140.8 L108.7,142.3 L108.6,143.8 L108.5,145.3 L108.4,146.8 L108.3,148.3 L108.3,149.8 L108.2,151.3 L108.1,152.8 L108.1,154.3 L108.0,155.8 L108.0,157.3 L107.9,158.8 L107.9,160.3 L107.8,161.8 L107.8,163.3 L107.8,164.8 L107.7,166.3 L107.7,167.8 L107.7,169.3 L107.7,170.8 L107.7,172.3 L107.7,173.8 L107.7,175.3 L107.7,176.8 L107.7,178.3 L107.7,179.7 L107.7,181.2 L107.7,182.7 L107.8,184.2 L107.8,185.7 L107.9,187.2 L107.9,188.7 L107.9,190.2 L108.0,191.7 L108.1,193.2 L108.1,194.7 L108.2,196.2 L108.3,197.7 L108.4,199.2 L108.5,200.7 L108.5,202.2 L108.6,203.7 L108.8,205.2 L108.9,206.7 L109.0,208.2 L109.1,209.7 L109.2,211.2 L109.4,212.7 L109.5,214.2 L109.7,215.7 L109.8,217.2 L110.0,218.7 L110.2,220.2 L110.4,221.7 L110.6,223.2 L110.8,224.7 L111.0,226.2 L111.2,227.7 L111.5,229.2 L111.7,230.7 L112.0,232.2 L112.3,233.7 L112.6,235.1 L112.9,236.6 L113.2,238.1 L113.5,239.5 L113.9,241.0 L114.2,242.5 L114.6,243.9 L115.0,245.3 L115.4,246.8 L115.9,248.2 L116.3,249.6 L116.8,251.0 L117.3,252.4 L117.8,253.8 L118.3,255.2 L118.9,256.6 L119.4,258.0 L120.0,259.3 L120.6,260.7 L121.3,262.0 L121.9,263.4 L122.6,264.7 L123.3,266.0 L124.0,267.3 L124.8,268.6 L125.6,269.9 L126.4,271.1 L127.2,272.4 L128.1,273.6 L128.9,274.9 L129.8,276.1 L130.8,277.3 L131.7,278.4 L132.7,279.6 L133.7,280.7 L134.8,281.9 L135.8,283.0 L136.9,284.0 L138.0,285.1 L139.1,286.1 L140.3,287.1 L141.5,288.1 L142.7,289.0 L143.9,289.9 L145.2,290.8 L146.4,291.6 L147.7,292.4 L149.0,293.2 L150.4,293.9 L151.7,294.6 L153.1,295.2 L154.5,295.8 L156.0,296.4 L157.4,296.9 L158.8,297.3 L160.3,297.7 L161.8,298.0 L163.2,298.2 L164.7,298.3 L166.2,298.4 L167.7,298.4 L169.2,298.2 L170.6,298.0 L172.1,297.7 L173.5,297.3 L174.9,296.8 L176.3,296.2 L177.6,295.6 L178.8,294.8 L180.0,294.0 L181.2,293.1 L182.3,292.1 L183.3,291.1 L184.2,290.0 L185.0,288.8 L185.8,287.5 L186.5,286.2 L187.1,284.8 L187.7,283.4 L188.2,281.9 L188.7,280.4 L189.0,278.9 L189.4,277.4 L189.7,275.9 L189.9,274.3 L190.1,272.8 L190.3,271.3 L190.4,269.8 L190.5,268.2 L190.6,266.7 L190.6,265.2 L190.6,263.7 L190.6,262.2 L190.5,260.7 L190.4,259.3 L190.3,257.8 L190.2,256.3 L190.0,254.8 L189.8,253.4 L189.5,251.9 L189.3,250.4 L189.0,249.0 L188.7,247.5 L188.4,246.1 L188.1,244.6 L187.7,243.2 L187.4,241.7 L187.0,240.3 L186.6,238.8 L186.2,237.4 L185.8,235.9 L185.3,234.5 L184.9,233.1 L184.4,231.6 L184.0,230.2 L183.5,228.8 L183.0,227.3 L182.5,225.9 L182.1,224.5 L181.6,223.0 L181.1,221.6 L180.6,220.2 L180.1,218.7 L179.6,217.3 L179.1,215.9 L178.7,214.4 L178.2,213.0 L177.7,211.6 L177.2,210.1 L176.8,208.7 L176.3,207.3 L175.9,205.8 L175.5,204.4 L175.1,202.9 L174.7,201.5 L174.3,200.0 L173.9,198.6 L173.6,197.1 L173.2,195.7 L172.9,194.2 L172.6,192.7 L172.3,191.3 L172.1,189.8 L171.8,188.3 L171.6,186.8 L171.4,185.4 L171.2,183.9 L171.0,182.4 L170.9,180.9 L170.8,179.4 L170.7,177.9 L170.6,176.5 L170.5,175.0 L170.4,173.5 L170.4,172.0 L170.4,170.5 L170.3,169.0 L170.4,167.5 L170.4,166.0 L170.4,164.5 L170.5,163.0 L170.6,161.5 L170.7,160.0 L170.8,158.5 L170.9,157.0 L171.0,155.5 L171.2,153.9 L171.4,152.4 L171.6,150.9 L171.8,149.4 L172.0,147.9 L172.3,146.4 L172.5,144.9 L172.8,143.4 L173.1,141.9 L173.4,140.4 L173.8,139.0 L174.2,137.5 L174.6,136.1 L175.0,134.6 L175.5,133.2 L175.9,131.8 L176.4,130.4 L177.0,129.0 L177.6,127.6 L178.2,126.3 L178.8,124.9 L179.5,123.6 L180.2,122.3 L181.0,121.1 L181.8,119.8 L182.6,118.6 L183.5,117.4 L184.4,116.3 L185.4,115.1 L186.4,114.0 L187.4,113.0 L188.5,111.9 L189.6,110.9 L190.8,110.0 L192.0,109.0 L193.2,108.2 L194.5,107.3 L195.8,106.5 L197.1,105.7 L198.5,105.0 L199.8,104.4 L201.2,103.7 L202.6,103.2 L204.1,102.6 L205.5,102.2 L206.9,101.8 L208.4,101.4 L209.9,101.1 L211.4,100.9 L212.8,100.7 L214.3,100.6 L215.8,100.5 L217.3,100.5 L218.8,100.6 L220.3,100.7 L221.7,100.9 L223.2,101.2 L224.7,101.5 L226.1,101.9 L227.5,102.3 L228.9,102.8 L230.3,103.3 L231.7,103.9 L233.1,104.5 L234.4,105.2 L235.8,106.0 L237.1,106.7 L238.3,107.5 L239.6,108.4 L240.8,109.3 L242.0,110.2 L243.2,111.2 L244.3,112.2 L245.4,113.2 L246.5,114.3 L247.5,115.4 L248.5,116.5 L249.5,117.6 L250.5,118.8 L251.4,120.0 L252.3,121.2 L253.2,122.5 L254.0,123.8 L254.8,125.0 L255.6,126.3 L256.3,127.7 L257.0,129.0 L257.7,130.4 L258.4,131.7 L259.0,133.1 L259.6,134.5 L260.1,135.9 L260.6,137.3 L261.1,138.7 L261.6,140.1 L262.0,141.5 L262.4,142.9 L262.8,144.3 L263.2,145.8 L263.5,147.2 L263.8,148.7 L264.1,150.1 L264.4,151.6 L264.6,153.0 L264.8,154.5 L265.0,156.0 L265.2,157.4 L265.3,158.9 L265.4,160.4 L265.6,161.9 L265.7,163.4 L265.7,164.9 L265.8,166.4 L265.9,167.9 L265.9,169.4 L265.9,170.9 L265.9,172.4 L265.9,173.9 L265.9,175.4 L265.9,176.9 L265.8,178.4 L265.8,179.9 L265.7,181.4 L265.7,182.9 L265.6,184.4 L265.5,185.9 L265.4,187.4 L265.3,189.0 L265.3,190.5 L265.2,192.0 L265.0,193.5 L264.9,195.0 L264.8,196.5 L264.7,198.0 L264.6,199.6 L264.5,201.1 L264.4,202.6 L264.2,204.1 L264.1,205.6 L264.0,207.1 L263.9,208.6 L263.8,210.1 L263.7,211.7 L263.6,213.2 L263.5,214.7 L263.4,216.2 L263.3,217.7 L263.2,219.2 L263.1,220.7 L263.0,222.2 L263.0,223.7 L262.9,225.2 L262.9,226.7 L262.8,228.2 L262.8,229.7 L262.8,231.2 L262.8,232.7 L262.8,234.2 L262.8,235.7 L262.9,237.2 L262.9,238.7 L263.0,240.2 L263.1,241.6 L263.1,243.1 L263.3,244.6 L263.4,246.1 L263.5,247.5 L263.7,249.0 L263.9,250.5 L264.1,251.9 L264.3,253.4 L264.5,254.9 L264.8,256.3 L265.1,257.8 L265.4,259.2 L265.7,260.7 L266.1,262.1 L266.4,263.5 L266.8,265.0 L267.3,266.4 L267.7,267.8 L268.2,269.3 L268.7,270.7 L269.2,272.1 L269.8,273.5 L270.4,274.9 L271.0,276.3 L271.6,277.7 L272.3,279.1 L273.0,280.4 L273.7,281.8 L274.5,283.1 L275.3,284.4 L276.1,285.7 L277.0,287.0 L277.8,288.2 L278.8,289.4 L279.7,290.6 L280.7,291.7 L281.7,292.8 L282.7,293.9 L283.8,295.0 L284.9,296.0 L286.0,296.9 L287.2,297.9 L288.4,298.7 L289.6,299.6 L290.9,300.4 L292.2,301.1 L293.5,301.8 L294.9,302.5 L296.2,303.1 L297.6,303.7 L299.0,304.3 L300.4,304.8 L301.8,305.4 L303.3,305.9 L304.7,306.4 L306.1,306.9 L307.6,307.4 L309.0,307.9 L310.4,308.4 L311.9,308.8 L313.3,309.3 L314.7,309.8 L316.2,310.2 L317.6,310.7 L319.0,311.1 L320.4,311.6 L321.9,312.0 L323.3,312.5 L324.7,312.9 L326.2,313.3 L327.6,313.8 L329.0,314.2 L330.5,314.6 L331.9,315.0 L333.3,315.5 L334.8,315.9 L336.2,316.3 L337.6,316.7 L339.1,317.1 L340.5,317.5 L341.9,317.9 L343.4,318.4 L344.8,318.8 L346.3,319.2 L347.7,319.6 L349.1,320.0 L350.6,320.4 L352.0,320.8 L353.5,321.3 L354.9,321.7 L356.4,322.1 L357.9,322.5 L359.3,322.9 L360.8,323.3 L362.2,323.7 L363.7,324.1 L365.1,324.5 L366.6,324.9 L368.0,325.3 L369.5,325.7 L371.0,326.1 L372.4,326.5 L373.9,326.8 L375.3,327.2 L376.8,327.6 L378.3,327.9 L379.7,328.3 L381.2,328.6 L382.6,329.0 L384.1,329.3 L385.6,329.6 L387.0,330.0 L388.5,330.3 L389.9,330.6 L391.4,330.9 L392.9,331.3 L394.3,331.6 L395.8,331.9 L397.2,332.2 L398.7,332.5 L400.2,332.8 L401.6,333.1 L403.1,333.4 L404.6,333.6 L406.0,333.9 L407.5,334.2 L409.0,334.5 L410.5,334.7 L411.9,335.0 L413.4,335.3 L414.9,335.5 L416.4,335.8 L417.8,336.1 L419.3,336.3 L420.8,336.6 L422.3,336.8 L423.7,337.1 L425.2,337.3 L426.7,337.6 L428.2,337.8 L429.7,338.1 L431.2,338.3 L432.7,338.6 L434.2,338.8 L435.6,339.0 L437.1,339.3 L438.6,339.5 L440.1,339.7 L441.6,340.0 L443.1,340.2 L444.6,340.4 L446.1,340.6 L447.6,340.8 L449.1,341.0 L450.6,341.2 L452.1,341.3 L453.6,341.5 L455.1,341.6 L456.6,341.7 L458.1,341.8 L459.6,341.8 L461.1,341.9 L462.6,341.9 L464.1,341.9 L465.6,341.9 L467.1,341.8 L468.6,341.7 L470.0,341.6 L471.5,341.4 L473.0,341.2 L474.5,341.0 L475.9,340.8 L477.4,340.5 L478.8,340.1 L480.3,339.7 L481.8,339.3 L483.2,338.9 L484.6,338.3 L486.0,337.8 L487.4,337.2 L488.8,336.5 L490.1,335.8 L491.5,335.1 L492.7,334.3 L494.0,333.5 L495.2,332.6 L496.3,331.6 L497.4,330.6 L498.4,329.5 L499.4,328.4 L500.3,327.2 L501.2,326.0 L502.0,324.8 L502.8,323.5 L503.5,322.2 L504.2,320.8 L504.8,319.5 L505.3,318.1 L505.8,316.7 L506.3,315.3 L506.7,313.8 L507.1,312.4 L507.4,310.9 L507.7,309.5 L507.9,308.0 L508.1,306.5 L508.3,305.0 L508.4,303.5 L508.4,302.0 L508.4,300.5 L508.4,299.0 L508.4,297.5 L508.3,296.0 L508.1,294.5 L508.0,293.0 L507.7,291.5 L507.5,290.0 L507.2,288.6 L506.9,287.1 L506.5,285.6 L506.1,284.1 L505.7,282.7 L505.2,281.2 L504.7,279.8 L504.2,278.4 L503.7,276.9 L503.1,275.5 L502.4,274.2 L501.8,272.8 L501.1,271.4 L500.4,270.1 L499.7,268.8 L498.9,267.5 L498.1,266.2 L497.3,265.0 L496.4,263.7 L495.6,262.5 L494.6,261.3 L493.7,260.1 L492.7,259.0 L491.8,257.9 L490.8,256.8 L489.7,255.7 L488.6,254.6 L487.6,253.6 L486.4,252.6 L485.3,251.7 L484.1,250.7 L483.0,249.8 L481.8,248.9 L480.5,248.1 L479.3,247.3 L478.0,246.5 L476.7,245.7 L475.4,245.0 L474.0,244.3 L472.7,243.6 L471.3,243.0 L469.9,242.4 L468.4,241.9 L467.0,241.4 L465.6,240.9 L464.1,240.5 L462.6,240.2 L461.1,239.9 L459.7,239.6 L458.2,239.4 L456.7,239.3 L455.2,239.2 L453.8,239.3 L452.3,239.3 L450.9,239.5 L449.5,239.7 L448.0,239.9 L446.6,240.2 L445.1,240.5 L443.7,240.9 L442.3,241.2 L440.8,241.6 L439.3,242.0 L437.9,242.4 L436.4,242.8 L434.9,243.1 L433.4,243.5 L431.9,243.8 L430.4,244.2 L428.8,244.5 L427.3,244.8 L425.8,245.1 L424.2,245.3 L422.7,245.5 L421.2,245.8 L419.6,245.9 L418.1,246.1 L416.6,246.2 L415.1,246.3 L413.6,246.4 L412.1,246.4 L410.6,246.4 L409.1,246.3 L407.6,246.2 L406.2,246.0 L404.7,245.9 L403.3,245.6 L401.9,245.3 L400.5,245.0 L399.2,244.6 L397.8,244.1 L396.5,243.6 L395.2,243.1 L394.0,242.4 L392.7,241.7 L391.5,241.0 L390.3,240.2 L389.2,239.3 L388.0,238.4 L386.9,237.5 L385.8,236.5 L384.8,235.4 L383.8,234.3 L382.8,233.2 L381.8,232.0 L380.8,230.8 L379.9,229.6 L379.0,228.3 L378.2,227.0 L377.3,225.7 L376.5,224.4 L375.7,223.0 L375.0,221.6 L374.2,220.2 L373.5,218.8 L372.8,217.3 L372.2,215.9 L371.6,214.4 L371.0,213.0 L370.4,211.5 L369.9,210.1 L369.4,208.6 L368.9,207.1 L368.4,205.7 L368.0,204.2 L367.6,202.8 L367.2,201.4 L366.9,199.9 L366.5,198.5 L366.2,197.1 L365.9,195.7 L365.7,194.2 L365.4,192.8 L365.2,191.4 L365.0,190.0 L364.8,188.5 L364.7,187.1 L364.5,185.7 L364.4,184.2 L364.3,182.8 L364.2,181.3 L364.1,179.8 L364.0,178.3 L364.0,176.9 L363.9,175.3 L363.9,173.8 L363.9,172.3 L363.8,170.8 L363.9,169.3 L363.9,167.7 L364.0,166.2 L364.1,164.7 L364.2,163.1 L364.4,161.6 L364.5,160.1 L364.8,158.6 L365.0,157.1 L365.3,155.6 L365.7,154.1 L366.0,152.7 L366.4,151.2 L366.9,149.8 L367.3,148.3 L367.8,146.9 L368.2,145.5 L368.7,144.1 L369.3,142.6 L369.8,141.2 L370.3,139.8 L370.8,138.4 L371.4,137.0 L371.9,135.6 L372.4,134.2 L373.0,132.8 L373.5,131.4 L374.0,130.0 L374.5,128.5 L375.0,127.1 L375.4,125.7 L375.8,124.3 L376.3,122.8 L376.6,121.4 L377.0,119.9 L377.3,118.5 L377.6,117.0 L377.9,115.5 L378.1,114.1 L378.3,112.6 L378.5,111.1 L378.7,109.6 L378.8,108.1 L378.9,106.7 L379.0,105.2 L379.0,103.7 L379.0,102.2 L378.9,100.7 L378.9,99.2 L378.8,97.7 L378.7,96.3 L378.5,94.8 L378.3,93.3 L378.1,91.8 L377.8,90.4 L377.5,88.9 L377.2,87.5 L376.8,86.0 L376.4,84.6 L375.9,83.1 L375.5,81.7 L375.0,80.3 L374.4,78.9 L373.8,77.5 L373.2,76.1 L372.6,74.7 L371.9,73.3 L371.2,72.0 L370.4,70.7 L369.6,69.3 L368.8,68.0 L368.0,66.7 L367.1,65.5 L366.2,64.2 L365.3,63.0 L364.4,61.8 L363.4,60.6 L362.4,59.4 L361.4,58.3 L360.3,57.2 L359.2,56.1 L358.1,55.0 L357.0,54.0 L355.9,53.0 L354.7,52.0 L353.6,51.1 L352.4,50.1 L351.2,49.3 L349.9,48.4 L348.7,47.6 L347.4,46.8 L346.1,46.0 L344.9,45.3 L343.6,44.6 L342.2,44.0 L340.9,43.4 L339.6,42.8 L338.2,42.2 L336.8,41.7 L335.4,41.2 L334.1,40.7 L332.7,40.3 L331.2,39.9 L329.8,39.5 L328.4,39.1 L326.9,38.8 L325.5,38.5 L324.0,38.2 L322.6,37.9 L321.1,37.7 L319.6,37.4 L318.1,37.2 L316.7,37.0 L315.2,36.9 L313.7,36.7 L312.2,36.5 L310.7,36.4 L309.1,36.3 L307.6,36.2 L306.1,36.1 L304.6,36.0 L303.1,35.9 L301.6,35.8 L300.0,35.7 L298.5,35.7 L297.0,35.6 L295.5,35.6 L294.0,35.5 L292.5,35.5 L290.9,35.4 L289.4,35.4 L287.9,35.4 L286.4,35.3 L284.9,35.3 L283.4,35.3 L281.9,35.3 L280.4,35.3 L278.8,35.2 L277.3,35.2 L275.8,35.2 L274.3,35.2 L272.8,35.2 L271.3,35.2 L269.8,35.2 L268.3,35.2 L266.8,35.2 L265.3,35.2 L263.8,35.3 L262.3,35.3 L260.8,35.3 L259.3,35.3 L257.8,35.3 L256.3,35.3 L254.8,35.4 L253.3,35.4 L251.8,35.4 L250.3,35.4 L248.8,35.5 L247.3,35.5 L245.8,35.5 L244.3,35.6 L242.8,35.6 L241.3,35.6 L239.8,35.7 L238.3,35.7 L236.8,35.7 L235.4,35.8 L233.9,35.8 L232.4,35.8 L230.9,35.9 L229.4,35.9 L227.9,35.9 L226.4,36.0 L224.9,36.0 L223.4,36.1 L221.9,36.1 L220.4,36.1 L218.9,36.2 L217.4,36.2 L215.9,36.2 L214.4,36.3 L212.9,36.3 L211.4,36.3 L209.9,36.4 L208.5,36.4 L207.0,36.4 L205.5,36.5 L204.0,36.5 L202.5,36.5 L201.0,36.6 L199.5,36.6 L198.0,36.6 L196.5,36.6 L195.0,36.6 L193.5,36.7 L192.0,36.7 L190.5,36.7 L189.0,36.7 L187.5,36.7 L186.0,36.7 L184.5,36.7 L183.0,36.7 L181.5,36.7 L180.0,36.7 L178.5,36.7 L176.9,36.7 L175.4,36.7 L173.9,36.7 L172.4,36.7 L170.9,36.7 L169.4,36.6 L167.9,36.6 L166.4,36.6 L164.9,36.6 L163.4,36.5 L161.8,36.5 L160.3,36.4 L158.8,36.4 L157.3,36.4 L155.8,36.3" stroke="#0a70e8" />
</g>
<g stroke="#000" stroke-width="1.7" fill="none">
<rect x="59.65" y="5.40" width="479.35" height="369.40"/>
<line x1="59.65" y1="374.80" x2="59.65" y2="382.10"/>
<line x1="107.20" y1="374.80" x2="107.20" y2="378.60"/>
<line x1="107.20" y1="5.40" x2="107.20" y2="9.20"/>
<line x1="155.20" y1="374.80" x2="155.20" y2="382.10"/>
<line x1="155.20" y1="5.40" x2="155.20" y2="12.70"/>
<line x1="203.20" y1="374.80" x2="203.20" y2="378.60"/>
<line x1="203.20" y1="5.40" x2="203.20" y2="9.20"/>
<line x1="251.20" y1="374.80" x2="251.20" y2="382.10"/>
<line x1="251.20" y1="5.40" x2="251.20" y2="12.70"/>
<line x1="299.20" y1="374.80" x2="299.20" y2="378.60"/>
<line x1="299.20" y1="5.40" x2="299.20" y2="9.20"/>
<line x1="347.20" y1="374.80" x2="347.20" y2="382.10"/>
<line x1="347.20" y1="5.40" x2="347.20" y2="12.70"/>
<line x1="395.20" y1="374.80" x2="395.20" y2="378.60"/>
<line x1="395.20" y1="5.40" x2="395.20" y2="9.20"/>
<line x1="443.20" y1="374.80" x2="443.20" y2="382.10"/>
<line x1="443.20" y1="5.40" x2="443.20" y2="12.70"/>
<line x1="491.20" y1="374.80" x2="491.20" y2="378.60"/>
<line x1="491.20" y1="5.40" x2="491.20" y2="9.20"/>
<line x1="539.00" y1="374.80" x2="539.00" y2="382.10"/>
<line x1="59.65" y1="5.40" x2="55.85" y2="5.40"/>
<line x1="59.65" y1="36.60" x2="52.15" y2="36.60"/>
<line x1="539.00" y1="36.60" x2="531.50" y2="36.60"/>
<line x1="59.65" y1="67.32" x2="55.85" y2="67.32"/>
<line x1="539.00" y1="67.32" x2="535.20" y2="67.32"/>
<line x1="59.65" y1="98.04" x2="52.15" y2="98.04"/>
<line x1="539.00" y1="98.04" x2="531.50" y2="98.04"/>
<line x1="59.65" y1="128.76" x2="55.85" y2="128.76"/>
<line x1="539.00" y1="128.76" x2="535.20" y2="128.76"/>
<line x1="59.65" y1="159.48" x2="52.15" y2="159.48"/>
<line x1="539.00" y1="159.48" x2="531.50" y2="159.48"/>
<line x1="59.65" y1="190.20" x2="55.85" y2="190.20"/>
<line x1="539.00" y1="190.20" x2="535.20" y2="190.20"/>
<line x1="59.65" y1="220.92" x2="52.15" y2="220.92"/>
<line x1="539.00" y1="220.92" x2="531.50" y2="220.92"/>
<line x1="59.65" y1="251.64" x2="55.85" y2="251.64"/>
<line x1="539.00" y1="251.64" x2="535.20" y2="251.64"/>
<line x1="59.65" y1="282.36" x2="52.15" y2="282.36"/>
<line x1="539.00" y1="282.36" x2="531.50" y2="282.36"/>
<line x1="59.65" y1="313.08" x2="55.85" y2="313.08"/>
<line x1="539.00" y1="313.08" x2="535.20" y2="313.08"/>
<line x1="59.65" y1="343.80" x2="52.15" y2="343.80"/>
<line x1="539.00" y1="343.80" x2="531.50" y2="343.80"/>
<line x1="59.65" y1="374.80" x2="55.85" y2="374.80"/>
</g>
<g font-size="17" fill="#000">
<text x="59.20" y="399.7" text-anchor="middle">-20</text>
<text x="155.20" y="399.7" text-anchor="middle">0</text>
<text x="251.20" y="399.7" text-anchor="middle">20</text>
<text x="347.20" y="399.7" text-anchor="middle">40</text>
<text x="443.20" y="399.7" text-anchor="middle">60</text>
<text x="539.20" y="399.7" text-anchor="middle">80</text>
<text x="47.3" y="41.10" text-anchor="end">0</text>
<text x="47.3" y="102.54" text-anchor="end">-10</text>
<text x="47.3" y="163.98" text-anchor="end">-20</text>
<text x="47.3" y="225.42" text-anchor="end">-30</text>
<text x="47.3" y="286.86" text-anchor="end">-40</text>
<text x="47.3" y="348.30" text-anchor="end">-50</text>
</g>
<text x="298.8" y="431.5" font-size="20" text-anchor="middle">X position (m)</text>
<text transform="translate(17,189.7) rotate(-90)" font-size="20" text-anchor="middle">Y position (m)</text>
<g>
<path d="M395.6,28 V104.2 H524.3 V28" fill="none" stroke="#5a5a5a" stroke-width="1.15"/>
<line x1="398.2" y1="41.5" x2="442.3" y2="41.5" stroke="#ff0000" stroke-width="2.8" stroke-linecap="round"/>
<line x1="398.2" y1="66.1" x2="442.3" y2="66.1" stroke="#000" stroke-width="2.8" stroke-linecap="round"/>
<line x1="398.2" y1="90.5" x2="442.3" y2="90.5" stroke="#0a70e8" stroke-width="2.8" stroke-linecap="round"/>
<text x="447" y="49.3" font-size="20">REF</text>
<text x="447" y="73.4" font-size="20">MPC</text>
<text x="447" y="97.5" font-size="20">DS-NNC</text>
</g>
</svg>
</body></html>
